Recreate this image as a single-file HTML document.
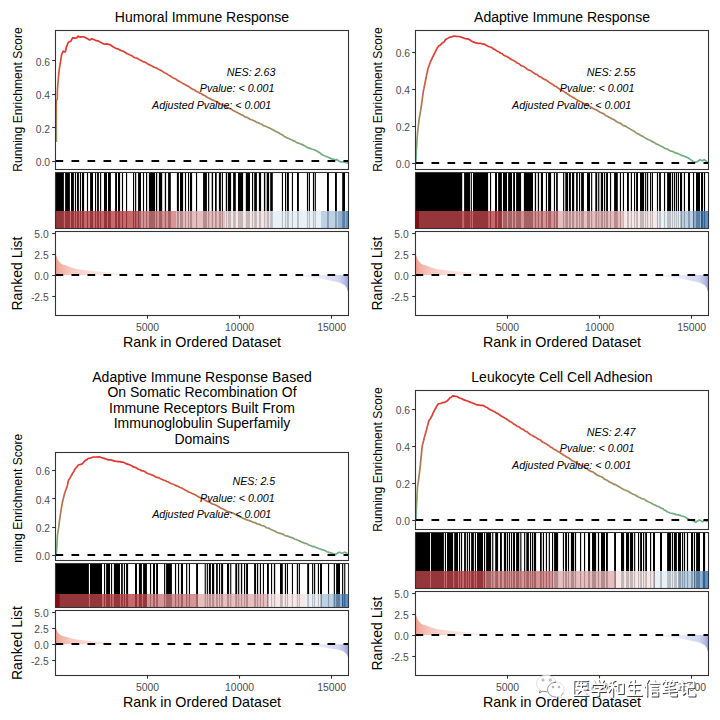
<!DOCTYPE html>
<html><head><meta charset="utf-8"><title>GSEA plots</title>
<style>
html,body{margin:0;padding:0;background:#fff;}
body{width:720px;height:720px;overflow:hidden;font-family:"Liberation Sans", sans-serif;}
svg{display:block;font-family:"Liberation Sans", sans-serif;}
</style></head><body>
<svg width="720" height="720" viewBox="0 0 720 720">
<rect width="720" height="720" fill="#fff"/>
<defs>
<linearGradient id="cg0" gradientUnits="userSpaceOnUse" x1="0" y1="36.1" x2="0" y2="163.3"><stop offset="0" stop-color="rgb(228,48,44)"/><stop offset="0.1" stop-color="rgb(226,56,48)"/><stop offset="0.2" stop-color="rgb(219,70,56)"/><stop offset="0.385" stop-color="rgb(202,96,70)"/><stop offset="0.5" stop-color="rgb(186,110,78)"/><stop offset="0.6" stop-color="rgb(170,125,85)"/><stop offset="0.75" stop-color="rgb(150,150,100)"/><stop offset="0.85" stop-color="rgb(130,163,115)"/><stop offset="0.93" stop-color="rgb(112,174,130)"/><stop offset="1" stop-color="rgb(104,180,140)"/></linearGradient>
<clipPath id="cp0"><rect x="55.5" y="30.5" width="293" height="139"/></clipPath>
<linearGradient id="rp0" gradientUnits="userSpaceOnUse" x1="55" y1="0" x2="175" y2="0"><stop offset="0" stop-color="rgb(240,156,141)"/><stop offset="0.04" stop-color="rgb(243,174,162)"/><stop offset="0.12" stop-color="rgb(247,198,190)"/><stop offset="0.3" stop-color="rgb(250,222,216)"/><stop offset="0.55" stop-color="rgb(253,240,238)"/><stop offset="1" stop-color="rgb(255,252,252)"/></linearGradient>
<linearGradient id="rn0" gradientUnits="userSpaceOnUse" x1="260" y1="0" x2="348" y2="0"><stop offset="0" stop-color="rgb(252,252,255)"/><stop offset="0.45" stop-color="rgb(242,243,251)"/><stop offset="0.72" stop-color="rgb(230,232,246)"/><stop offset="0.9" stop-color="rgb(208,212,238)"/><stop offset="0.97" stop-color="rgb(178,185,226)"/><stop offset="1" stop-color="rgb(156,165,217)"/></linearGradient>
<linearGradient id="cg1" gradientUnits="userSpaceOnUse" x1="0" y1="36" x2="0" y2="163"><stop offset="0" stop-color="rgb(228,48,44)"/><stop offset="0.1" stop-color="rgb(226,56,48)"/><stop offset="0.2" stop-color="rgb(219,70,56)"/><stop offset="0.385" stop-color="rgb(202,96,70)"/><stop offset="0.5" stop-color="rgb(186,110,78)"/><stop offset="0.6" stop-color="rgb(170,125,85)"/><stop offset="0.75" stop-color="rgb(150,150,100)"/><stop offset="0.85" stop-color="rgb(130,163,115)"/><stop offset="0.93" stop-color="rgb(112,174,130)"/><stop offset="1" stop-color="rgb(104,180,140)"/></linearGradient>
<clipPath id="cp1"><rect x="415.5" y="30.5" width="293" height="139"/></clipPath>
<linearGradient id="rp1" gradientUnits="userSpaceOnUse" x1="415" y1="0" x2="535" y2="0"><stop offset="0" stop-color="rgb(240,156,141)"/><stop offset="0.04" stop-color="rgb(243,174,162)"/><stop offset="0.12" stop-color="rgb(247,198,190)"/><stop offset="0.3" stop-color="rgb(250,222,216)"/><stop offset="0.55" stop-color="rgb(253,240,238)"/><stop offset="1" stop-color="rgb(255,252,252)"/></linearGradient>
<linearGradient id="rn1" gradientUnits="userSpaceOnUse" x1="620" y1="0" x2="708" y2="0"><stop offset="0" stop-color="rgb(252,252,255)"/><stop offset="0.45" stop-color="rgb(242,243,251)"/><stop offset="0.72" stop-color="rgb(230,232,246)"/><stop offset="0.9" stop-color="rgb(208,212,238)"/><stop offset="0.97" stop-color="rgb(178,185,226)"/><stop offset="1" stop-color="rgb(156,165,217)"/></linearGradient>
<linearGradient id="cg2" gradientUnits="userSpaceOnUse" x1="0" y1="456.7" x2="0" y2="555.4"><stop offset="0" stop-color="rgb(228,48,44)"/><stop offset="0.1" stop-color="rgb(226,56,48)"/><stop offset="0.2" stop-color="rgb(219,70,56)"/><stop offset="0.385" stop-color="rgb(202,96,70)"/><stop offset="0.5" stop-color="rgb(186,110,78)"/><stop offset="0.6" stop-color="rgb(170,125,85)"/><stop offset="0.75" stop-color="rgb(150,150,100)"/><stop offset="0.85" stop-color="rgb(130,163,115)"/><stop offset="0.93" stop-color="rgb(112,174,130)"/><stop offset="1" stop-color="rgb(104,180,140)"/></linearGradient>
<clipPath id="cp2"><rect x="55.5" y="452.5" width="293" height="108"/></clipPath>
<clipPath id="yc2"><rect x="0" y="0" width="55" height="563"/></clipPath>
<linearGradient id="rp2" gradientUnits="userSpaceOnUse" x1="55" y1="0" x2="175" y2="0"><stop offset="0" stop-color="rgb(240,156,141)"/><stop offset="0.04" stop-color="rgb(243,174,162)"/><stop offset="0.12" stop-color="rgb(247,198,190)"/><stop offset="0.3" stop-color="rgb(250,222,216)"/><stop offset="0.55" stop-color="rgb(253,240,238)"/><stop offset="1" stop-color="rgb(255,252,252)"/></linearGradient>
<linearGradient id="rn2" gradientUnits="userSpaceOnUse" x1="260" y1="0" x2="348" y2="0"><stop offset="0" stop-color="rgb(252,252,255)"/><stop offset="0.45" stop-color="rgb(242,243,251)"/><stop offset="0.72" stop-color="rgb(230,232,246)"/><stop offset="0.9" stop-color="rgb(208,212,238)"/><stop offset="0.97" stop-color="rgb(178,185,226)"/><stop offset="1" stop-color="rgb(156,165,217)"/></linearGradient>
<linearGradient id="cg3" gradientUnits="userSpaceOnUse" x1="0" y1="395.8" x2="0" y2="522.2"><stop offset="0" stop-color="rgb(228,48,44)"/><stop offset="0.1" stop-color="rgb(226,56,48)"/><stop offset="0.2" stop-color="rgb(219,70,56)"/><stop offset="0.385" stop-color="rgb(202,96,70)"/><stop offset="0.5" stop-color="rgb(186,110,78)"/><stop offset="0.6" stop-color="rgb(170,125,85)"/><stop offset="0.75" stop-color="rgb(150,150,100)"/><stop offset="0.85" stop-color="rgb(130,163,115)"/><stop offset="0.93" stop-color="rgb(112,174,130)"/><stop offset="1" stop-color="rgb(104,180,140)"/></linearGradient>
<clipPath id="cp3"><rect x="415.5" y="390.5" width="293" height="139"/></clipPath>
<linearGradient id="rp3" gradientUnits="userSpaceOnUse" x1="415" y1="0" x2="535" y2="0"><stop offset="0" stop-color="rgb(240,156,141)"/><stop offset="0.04" stop-color="rgb(243,174,162)"/><stop offset="0.12" stop-color="rgb(247,198,190)"/><stop offset="0.3" stop-color="rgb(250,222,216)"/><stop offset="0.55" stop-color="rgb(253,240,238)"/><stop offset="1" stop-color="rgb(255,252,252)"/></linearGradient>
<linearGradient id="rn3" gradientUnits="userSpaceOnUse" x1="620" y1="0" x2="708" y2="0"><stop offset="0" stop-color="rgb(252,252,255)"/><stop offset="0.45" stop-color="rgb(242,243,251)"/><stop offset="0.72" stop-color="rgb(230,232,246)"/><stop offset="0.9" stop-color="rgb(208,212,238)"/><stop offset="0.97" stop-color="rgb(178,185,226)"/><stop offset="1" stop-color="rgb(156,165,217)"/></linearGradient>
</defs>
<g id="panel1"><text x="202.0" y="21.7" font-size="14" text-anchor="middle" fill="#000">Humoral Immune Response</text>
<polyline points="56.35,142 56.35,140.34 56.35,138.68 56.35,137.02 56.35,135.36 56.35,133.7 56.35,132.04 56.35,130.38 56.35,128.72 56.35,127.06 56.35,125.4 56.35,123.74 56.35,122.08 56.35,120.42 56.35,118.76 56.35,117.1 56.35,115.44 56.35,113.78 56.35,112.12 56.35,110.46 56.35,108.8 56.35,107.14 56.35,105.48 56.35,103.82 56.35,102.16 56.35,100.5 57.3,99.5 57.32,97.8 57.34,96.1 57.36,94.4 57.38,92.7 57.4,91 57.52,88.81 57.65,87.12 57.77,85.43 57.9,83.3 58.07,81.61 58.23,79.78 58.4,77.7 58.57,76.13 58.73,74.08 58.9,72.2 59.16,70.1 59.42,68.61 59.68,66.52 59.94,65.41 60.2,63.3 60.5,61.86 60.8,59.61 61.1,57.82 61.4,56.38 61.7,54.4 62.5,52.52 63.3,51.1 65,52 65.6,51.2 66,48.71 66.4,46.7 67.2,45.5 67.75,43.61 68.3,42.2 69.5,41.8 71.1,40.9 72,39 72.8,37.8 74.5,38.1 76.7,38 77.4,36.9 78.3,36.1 79,36.9 80,36.9 82.2,36.83 84.4,37 87,38.5 88.5,39.35 90,40 91.7,38.7 94.5,39.8 96.15,40.65 97.8,40.8 100.5,42.3 101.9,42.88 103.3,43.9 105,44.25 106.7,43.9 108.65,44.39 110.6,44.8 112.5,46.5 114.4,47.6 116.27,48.61 118.13,48.88 120,49.9 121.43,50.74 122.86,51.07 124.29,51.71 125.71,52.73 127.14,53.75 128.57,54.32 130,55 131.67,55.58 133.33,56.89 135,57.76 136.67,58.07 138.33,59.04 140,59.9 141.67,60.84 143.33,61.87 145,62.12 146.67,63.27 148.33,64.42 150,64.9 151.43,65.71 152.86,66.52 154.29,67.29 155.71,67.82 157.14,68.38 158.57,69.34 160,70 161.43,70.85 162.86,71.54 164.29,72.75 165.71,73.21 167.14,74.13 168.57,75.17 170,75.8 171.43,76.87 172.86,77.75 174.29,78.4 175.71,78.93 177.14,80.21 178.57,81.08 180,81.6 181.43,82.61 182.86,83.49 184.29,84.14 185.71,84.97 187.14,85.88 188.57,86.39 190,87.5 191.43,88.46 192.86,89.43 194.29,89.73 195.71,91.01 197.14,91.8 198.57,92.18 200,93.3 201.43,93.72 202.86,94.89 204.29,95.36 205.71,96.18 207.14,97.18 208.57,97.96 210,98.6 211.43,99.53 212.86,100.14 214.29,100.7 215.71,101.2 217.14,102.02 218.57,102.82 220,103.8 221.67,104.62 223.33,105.57 225,105.98 226.67,106.92 228.33,108.13 230,108.6 231.43,109.3 232.86,110.3 234.29,111 235.71,111.81 237.14,112.44 238.57,113.26 240,114 241.43,114.9 242.86,115.23 244.29,116.46 245.71,117.25 247.14,117.37 248.57,118.23 250,119.2 251.67,119.78 253.33,120.43 255,121.23 256.67,122.37 258.33,122.75 260,123.8 261.67,124.22 263.33,125.64 265,125.98 266.67,126.83 268.33,127.53 270,128.3 271.43,128.97 272.86,129.84 274.29,130.42 275.71,131.5 277.14,132.04 278.57,132.74 280,133.8 281.43,134.35 282.86,135.28 284.29,136.44 285.71,136.96 287.14,138.02 288.57,138.35 290,139.2 291.67,139.78 293.33,140.89 295,141.26 296.67,142.65 298.33,142.95 300,143.8 301.67,144.38 303.33,145.13 305,145.9 306.67,147.13 308.33,147.92 310,148.3 311.6,149.04 313.2,149.5 314.8,150.03 316.4,150.78 318,151.8 319.77,152.81 321.53,154.24 323.3,155.3 325.55,156.2 327.8,156.9 329.43,157.9 331.07,158.61 332.7,159.1 335.3,159.8 336.7,159.6 338.9,160.9 341.1,162 342.4,161.9 345,162.2 346.9,162.7 348,163.3" fill="none" stroke="url(#cg0)" stroke-width="1.7" stroke-linejoin="round" clip-path="url(#cp0)"/>
<line x1="55.5" y1="161" x2="348.5" y2="161" stroke="#000" stroke-width="2" stroke-dasharray="7.7 8.3"/>
<text x="275.4" y="75.6" font-size="10.7" font-style="italic" text-anchor="end" fill="#000">NES: 2.63</text>
<text x="274.4" y="91.7" font-size="10.7" font-style="italic" text-anchor="end" fill="#000">Pvalue: &lt; 0.001</text>
<text x="271.25" y="108.5" font-size="10.7" font-style="italic" text-anchor="end" fill="#000">Adjusted Pvalue: &lt; 0.001</text>
<rect x="55.5" y="30.5" width="293" height="139" fill="none" stroke="#333333" stroke-width="1.1"/>
<line x1="52.2" y1="161.5" x2="55.5" y2="161.5" stroke="#333333" stroke-width="1.1"/>
<text x="50.0" y="166.1" font-size="10.3" text-anchor="end" fill="#4D4D4D">0.0</text>
<line x1="52.2" y1="127.5" x2="55.5" y2="127.5" stroke="#333333" stroke-width="1.1"/>
<text x="50.0" y="132.62" font-size="10.3" text-anchor="end" fill="#4D4D4D">0.2</text>
<line x1="52.2" y1="94.5" x2="55.5" y2="94.5" stroke="#333333" stroke-width="1.1"/>
<text x="50.0" y="99.14" font-size="10.3" text-anchor="end" fill="#4D4D4D">0.4</text>
<line x1="52.2" y1="60.5" x2="55.5" y2="60.5" stroke="#333333" stroke-width="1.1"/>
<text x="50.0" y="65.66" font-size="10.3" text-anchor="end" fill="#4D4D4D">0.6</text>
<g><text transform="translate(22.200000000000003,99.5) rotate(-90)" font-size="12.1" text-anchor="middle" fill="#000">Running Enrichment Score</text></g>
<path d="M55 172.5H63.9V228.5H55ZM65.1 172.5H69.9V228.5H65.1ZM71 172.5H73.9V228.5H71ZM74.92 172.5H76.08V228.5H74.92ZM77 172.5H78.9V228.5H77ZM79.92 172.5H81.08V228.5H79.92ZM82 172.5H84.1V228.5H82ZM86.92 172.5H88.08V228.5H86.92ZM90.1 172.5H93V228.5H90.1ZM94.97 172.5H96.12V228.5H94.97ZM97.1 172.5H98.9V228.5H97.1ZM100.02 172.5H101.17V228.5H100.02ZM104 172.5H107V228.5H104ZM108 172.5H110.9V228.5H108ZM115.1 172.5H117V228.5H115.1ZM118 172.5H120.1V228.5H118ZM121.92 172.5H123.08V228.5H121.92ZM125.97 172.5H127.12V228.5H125.97ZM132.98 172.5H134.12V228.5H132.98ZM135.07 172.5H136.22V228.5H135.07ZM138.1 172.5H141V228.5H138.1ZM142.93 172.5H144.07V228.5H142.93ZM146.03 172.5H147.17V228.5H146.03ZM148.9 172.5H155V228.5H148.9ZM155.9 172.5H157.2V228.5H155.9ZM158.9 172.5H162.2V228.5H158.9ZM164.8 172.5H166.1V228.5H164.8ZM168.1 172.5H170.8V228.5H168.1ZM176.9 172.5H178.9V228.5H176.9ZM180 172.5H183.1V228.5H180ZM184.93 172.5H186.07V228.5H184.93ZM187.98 172.5H189.12V228.5H187.98ZM190 172.5H192.1V228.5H190ZM195.98 172.5H197.12V228.5H195.98ZM203.1 172.5H206.9V228.5H203.1ZM208.07 172.5H209.22V228.5H208.07ZM211.7 172.5H213.1V228.5H211.7ZM215 172.5H216.7V228.5H215ZM218.9 172.5H220.9V228.5H218.9ZM221.83 172.5H222.97V228.5H221.83ZM225.8 172.5H227.2V228.5H225.8ZM228 172.5H231.1V228.5H228ZM233.1 172.5H235.8V228.5H233.1ZM238 172.5H243.1V228.5H238ZM245.8 172.5H250V228.5H245.8ZM251.98 172.5H253.12V228.5H251.98ZM254.2 172.5H256.9V228.5H254.2ZM258.9 172.5H261.1V228.5H258.9ZM263.9 172.5H265.3V228.5H263.9ZM266.7 172.5H269.1V228.5H266.7ZM270.2 172.5H272.8V228.5H270.2ZM281.88 172.5H283.02V228.5H281.88ZM284.98 172.5H286.12V228.5H284.98ZM286.9 172.5H288.9V228.5H286.9ZM291.88 172.5H293.02V228.5H291.88ZM297 172.5H298.9V228.5H297ZM306.93 172.5H308.07V228.5H306.93ZM308.82 172.5H309.97V228.5H308.82ZM312.93 172.5H314.07V228.5H312.93ZM314.73 172.5H315.88V228.5H314.73ZM327 172.5H328.9V228.5H327ZM335 172.5H336.9V228.5H335ZM342.2 172.5H345V228.5H342.2Z" fill="#000"/>
<rect x="55" y="211" width="83.75" height="17.5" fill="rgb(185,68,73)" fill-opacity="0.8"/>
<rect x="138.75" y="211" width="37.5" height="17.5" fill="rgb(205,122,125)" fill-opacity="0.8"/>
<rect x="176.25" y="211" width="48.75" height="17.5" fill="rgb(225,175,177)" fill-opacity="0.8"/>
<rect x="225" y="211" width="44.6" height="17.5" fill="rgb(245,228,229)" fill-opacity="0.8"/>
<rect x="269.6" y="211" width="51.4" height="17.5" fill="rgb(228,236,244)" fill-opacity="0.8"/>
<rect x="321" y="211" width="16.9" height="17.5" fill="rgb(173,197,222)" fill-opacity="0.8"/>
<rect x="337.9" y="211" width="7.5" height="17.5" fill="rgb(118,158,200)" fill-opacity="0.8"/>
<rect x="345.4" y="211" width="3.1" height="17.5" fill="rgb(63,120,178)" fill-opacity="0.8"/>
<rect x="55.5" y="172.5" width="293" height="56" fill="none" stroke="#333333" stroke-width="1.1"/>
<path d="M55.5 275.1L56 255.4 56.5 255.8 57.5 258.9 58.5 260.8 60 262.5 61.5 263.9 64.5 265 67.5 266.1 71.5 267.5 76.5 268.9 83.5 270 92.5 271.1 100.5 271.8 110.5 272.8 130.5 273.8 150.5 274.6 175.5 275.1Z" fill="url(#rp0)"/>
<path d="M260.5 275.1L260.5 275.1 285.5 275.8 300.5 276.7 310.5 277.2 316.5 278 325.5 279.5 332.5 280.9 338.5 282.2 342.5 283.9 345 285.6 346.5 287.8 347.7 291 348.7 293.8L348.5 275.1Z" fill="url(#rn0)"/>
<line x1="55.5" y1="275" x2="348.5" y2="275" stroke="#000" stroke-width="2" stroke-dasharray="7.7 8.3"/>
<rect x="55.5" y="231.5" width="293" height="84" fill="none" stroke="#333333" stroke-width="1.1"/>
<line x1="52.2" y1="233.5" x2="55.5" y2="233.5" stroke="#333333" stroke-width="1.1"/>
<text x="48.7" y="238" font-size="10.3" text-anchor="end" fill="#4D4D4D">5.0</text>
<line x1="52.2" y1="254.5" x2="55.5" y2="254.5" stroke="#333333" stroke-width="1.1"/>
<text x="48.7" y="258.9" font-size="10.3" text-anchor="end" fill="#4D4D4D">2.5</text>
<line x1="52.2" y1="275.5" x2="55.5" y2="275.5" stroke="#333333" stroke-width="1.1"/>
<text x="48.7" y="279.8" font-size="10.3" text-anchor="end" fill="#4D4D4D">0.0</text>
<line x1="52.2" y1="296.5" x2="55.5" y2="296.5" stroke="#333333" stroke-width="1.1"/>
<text x="48.7" y="300.7" font-size="10.3" text-anchor="end" fill="#4D4D4D">-2.5</text>
<text transform="translate(22.299999999999997,273.55) rotate(-90)" font-size="14" text-anchor="middle" fill="#000">Ranked List</text>
<line x1="147.5" y1="315.5" x2="147.5" y2="318.6" stroke="#333333" stroke-width="1.1"/>
<text x="147.53" y="330.8" font-size="10.4" text-anchor="middle" fill="#4D4D4D">5000</text>
<line x1="239.5" y1="315.5" x2="239.5" y2="318.6" stroke="#333333" stroke-width="1.1"/>
<text x="239.55" y="330.8" font-size="10.4" text-anchor="middle" fill="#4D4D4D">10000</text>
<line x1="331.5" y1="315.5" x2="331.5" y2="318.6" stroke="#333333" stroke-width="1.1"/>
<text x="331.58" y="330.8" font-size="10.4" text-anchor="middle" fill="#4D4D4D">15000</text>
<text x="202.0" y="347.3" font-size="14.3" text-anchor="middle" fill="#000">Rank in Ordered Dataset</text></g>
<g id="panel2"><text x="562.0" y="21.7" font-size="14" text-anchor="middle" fill="#000">Adaptive Immune Response</text>
<polyline points="415.6,163 415.8,162.5 415.88,160.95 415.96,159.05 416.03,158.02 416.11,156.38 416.19,154.42 416.27,152.96 416.34,151.01 416.42,149.4 416.5,148 416.61,146.21 416.72,144.88 416.83,142.88 416.94,141.82 417.06,139.51 417.17,137.97 417.28,136.25 417.39,135.14 417.5,133.3 417.69,131.59 417.88,130.06 418.07,128.33 418.26,126.96 418.44,125.17 418.63,123.41 418.82,121.97 419.01,120.26 419.2,118.8 419.5,116.72 419.8,115.47 420.1,113.58 420.4,111.78 420.7,110.16 421,108.01 421.3,106.3 421.52,104.59 421.74,103 421.97,101.36 422.19,99.94 422.41,97.81 422.63,96.54 422.86,94.97 423.08,93.2 423.3,91.7 423.65,89.6 424,88.39 424.35,86.13 424.7,84.82 425.05,82.77 425.4,81.3 425.76,79.15 426.11,77.47 426.47,75.59 426.83,73.86 427.19,72.48 427.54,70.72 427.9,68.75 428.52,66.98 429.14,65.53 429.76,63.72 430.38,62.07 431,60.4 431.72,59.23 432.44,57.34 433.16,56.3 433.88,54.71 434.6,53.1 435.43,51.78 436.26,49.8 437.09,48.4 437.92,46.9 438.75,45.8 440.5,44.9 442.5,42.7 444,41.9 445.6,39.6 447.5,38.6 449.8,37.1 452,36.8 454,36 456.5,36.4 459.2,36.5 462,37.4 463.7,37.96 465.4,38.75 467.5,38.9 469.6,39.6 470.98,40.77 472.37,41.55 473.75,42.1 476.02,42.96 478.3,43.3 480.4,43.31 482.5,44.06 484.6,44.2 486.09,45.18 487.57,45.98 489.06,46.74 490.54,47.01 492.03,47.81 493.51,49.05 495,49.6 496.39,50.61 497.78,51.56 499.17,52.06 500.56,53.23 501.94,53.49 503.33,54.95 504.72,55.73 506.11,56.14 507.5,57.1 508.89,57.6 510.28,58.8 511.67,59.74 513.06,60.32 514.44,60.93 515.83,61.93 517.22,63.18 518.61,63.46 520,64.6 521.39,65.77 522.78,66.08 524.17,66.88 525.56,67.64 526.94,69.13 528.33,69.9 529.72,70.3 531.11,70.96 532.5,72.1 533.89,73.05 535.28,74.06 536.67,74.23 538.06,75.53 539.44,76.54 540.83,77.07 542.22,77.99 543.61,79 545,79.6 546.39,80.29 547.78,81.21 549.17,82.39 550.56,83.2 551.94,84.07 553.33,84.81 554.72,86.15 556.11,86.55 557.5,87.6 558.89,88.65 560.28,89.72 561.67,90.26 563.06,90.91 564.44,91.94 565.83,92.74 567.22,93.71 568.61,94.6 570,95.8 571.56,96.54 573.12,97.43 574.69,98.35 576.25,99.38 577.81,100.25 579.38,101.12 580.94,101.73 582.5,102.7 584.06,103.66 585.62,104.41 587.19,104.93 588.75,106.08 590.31,106.75 591.88,107.86 593.44,108.74 595,109.4 596.56,110.07 598.12,111.08 599.69,111.95 601.25,112.7 602.81,113.36 604.38,114.23 605.94,115.81 607.5,116.3 609.06,117.33 610.62,117.95 612.19,118.98 613.75,119.52 615.31,120.71 616.88,121.74 618.44,122.46 620,123.1 621.43,123.92 622.86,125.15 624.29,125.95 625.71,126.14 627.14,127.25 628.57,128.12 630,129 631.43,129.69 632.86,130.8 634.29,131.3 635.71,132.62 637.14,133.56 638.57,133.81 640,135 641.43,135.9 642.86,136.34 644.29,137.38 645.71,138.17 647.14,139.15 648.57,139.77 650,140.3 651.43,140.96 652.86,142.05 654.29,142.39 655.71,143.61 657.14,144.17 658.57,144.84 660,145.8 661.67,146.43 663.33,147.25 665,148.53 666.67,148.83 668.33,149.76 670,150.8 671.62,151.14 673.25,151.69 674.88,152.7 676.5,153.1 678.2,153.84 679.9,154.58 681.6,155.43 683.3,155.8 684.97,156.61 686.65,157.15 688.33,158.11 690,159.2 691.4,160.15 692.8,161.23 694.2,162 695.85,162.17 697.5,161.7 698.75,160.71 700,159.7 702.5,160.8 704.2,159.7 706,161 707.5,161.7" fill="none" stroke="url(#cg1)" stroke-width="1.7" stroke-linejoin="round" clip-path="url(#cp1)"/>
<line x1="415.5" y1="163" x2="708.5" y2="163" stroke="#000" stroke-width="2" stroke-dasharray="7.7 8.3"/>
<text x="635.4" y="75.6" font-size="10.7" font-style="italic" text-anchor="end" fill="#000">NES: 2.55</text>
<text x="634.4" y="91.7" font-size="10.7" font-style="italic" text-anchor="end" fill="#000">Pvalue: &lt; 0.001</text>
<text x="631.25" y="108.5" font-size="10.7" font-style="italic" text-anchor="end" fill="#000">Adjusted Pvalue: &lt; 0.001</text>
<rect x="415.5" y="30.5" width="293" height="139" fill="none" stroke="#333333" stroke-width="1.1"/>
<line x1="412.2" y1="163.5" x2="415.5" y2="163.5" stroke="#333333" stroke-width="1.1"/>
<text x="410.0" y="168.3" font-size="10.3" text-anchor="end" fill="#4D4D4D">0.0</text>
<line x1="412.2" y1="126.5" x2="415.5" y2="126.5" stroke="#333333" stroke-width="1.1"/>
<text x="410.0" y="131.18" font-size="10.3" text-anchor="end" fill="#4D4D4D">0.2</text>
<line x1="412.2" y1="89.5" x2="415.5" y2="89.5" stroke="#333333" stroke-width="1.1"/>
<text x="410.0" y="94.06" font-size="10.3" text-anchor="end" fill="#4D4D4D">0.4</text>
<line x1="412.2" y1="52.5" x2="415.5" y2="52.5" stroke="#333333" stroke-width="1.1"/>
<text x="410.0" y="56.94" font-size="10.3" text-anchor="end" fill="#4D4D4D">0.6</text>
<g><text transform="translate(382.2,99.5) rotate(-90)" font-size="12.1" text-anchor="middle" fill="#000">Running Enrichment Score</text></g>
<path d="M415 172.5H462.2V228.5H415ZM464.1 172.5H470V228.5H464.1ZM470.72 172.5H471.87V228.5H470.72ZM473 172.5H488.1V228.5H473ZM489.98 172.5H491.12V228.5H489.98ZM495 172.5H497V228.5H495ZM498.1 172.5H501.9V228.5H498.1ZM503 172.5H507V228.5H503ZM508.1 172.5H512V228.5H508.1ZM513.1 172.5H515V228.5H513.1ZM516.1 172.5H521.1V228.5H516.1ZM523.9 172.5H533V228.5H523.9ZM534.8 172.5H536.1V228.5H534.8ZM537.8 172.5H539.1V228.5H537.8ZM540.9 172.5H543V228.5H540.9ZM545.88 172.5H547.03V228.5H545.88ZM548.1 172.5H551.1V228.5H548.1ZM553.88 172.5H555.03V228.5H553.88ZM556.1 172.5H557.8V228.5H556.1ZM563.08 172.5H564.23V228.5H563.08ZM565.3 172.5H568V228.5H565.3ZM568.9 172.5H570.9V228.5H568.9ZM572 172.5H574.2V228.5H572ZM576.1 172.5H577.8V228.5H576.1ZM578.97 172.5H580.12V228.5H578.97ZM581.1 172.5H583.9V228.5H581.1ZM587 172.5H590V228.5H587ZM591.08 172.5H592.23V228.5H591.08ZM595.3 172.5H597.2V228.5H595.3ZM598.17 172.5H599.33V228.5H598.17ZM600.8 172.5H603.1V228.5H600.8ZM604.02 172.5H605.18V228.5H604.02ZM606.1 172.5H608V228.5H606.1ZM609.97 172.5H611.12V228.5H609.97ZM614.1 172.5H617.8V228.5H614.1ZM619.88 172.5H621.03V228.5H619.88ZM622.88 172.5H624.03V228.5H622.88ZM627 172.5H628.9V228.5H627ZM630.82 172.5H631.98V228.5H630.82ZM633.97 172.5H635.12V228.5H633.97ZM636.1 172.5H638V228.5H636.1ZM640 172.5H644.1V228.5H640ZM645.08 172.5H646.23V228.5H645.08ZM647.02 172.5H648.18V228.5H647.02ZM649.97 172.5H651.12V228.5H649.97ZM651.88 172.5H653.03V228.5H651.88ZM656.92 172.5H658.08V228.5H656.92ZM659.1 172.5H660.9V228.5H659.1ZM663.97 172.5H665.12V228.5H663.97ZM667.1 172.5H671V228.5H667.1ZM671.88 172.5H673.03V228.5H671.88ZM673.88 172.5H675.03V228.5H673.88ZM675.82 172.5H676.98V228.5H675.82ZM677.82 172.5H678.98V228.5H677.82ZM680 172.5H682.1V228.5H680ZM683.88 172.5H685.03V228.5H683.88ZM688 172.5H690V228.5H688ZM692.97 172.5H694.12V228.5H692.97ZM696 172.5H700V228.5H696ZM701 172.5H703V228.5H701ZM703.9 172.5H705.1V228.5H703.9Z" fill="#000"/>
<rect x="415" y="211" width="3.75" height="17.5" fill="rgb(165,15,21)" fill-opacity="0.8"/>
<rect x="418.75" y="211" width="83.55" height="17.5" fill="rgb(185,68,73)" fill-opacity="0.8"/>
<rect x="502.3" y="211" width="55.5" height="17.5" fill="rgb(205,122,125)" fill-opacity="0.8"/>
<rect x="557.8" y="211" width="65.1" height="17.5" fill="rgb(225,175,177)" fill-opacity="0.8"/>
<rect x="622.9" y="211" width="34.2" height="17.5" fill="rgb(245,228,229)" fill-opacity="0.8"/>
<rect x="657.1" y="211" width="24" height="17.5" fill="rgb(228,236,244)" fill-opacity="0.8"/>
<rect x="681.1" y="211" width="12.2" height="17.5" fill="rgb(173,197,222)" fill-opacity="0.8"/>
<rect x="693.3" y="211" width="7.8" height="17.5" fill="rgb(118,158,200)" fill-opacity="0.8"/>
<rect x="701.1" y="211" width="7.4" height="17.5" fill="rgb(63,120,178)" fill-opacity="0.8"/>
<rect x="415.5" y="172.5" width="293" height="56" fill="none" stroke="#333333" stroke-width="1.1"/>
<path d="M415.5 275.1L416 255.4 416.5 255.8 417.5 258.9 418.5 260.8 420 262.5 421.5 263.9 424.5 265 427.5 266.1 431.5 267.5 436.5 268.9 443.5 270 452.5 271.1 460.5 271.8 470.5 272.8 490.5 273.8 510.5 274.6 535.5 275.1Z" fill="url(#rp1)"/>
<path d="M620.5 275.1L620.5 275.1 645.5 275.8 660.5 276.7 670.5 277.2 676.5 278 685.5 279.5 692.5 280.9 698.5 282.2 702.5 283.9 705 285.6 706.5 287.8 707.7 291 708.7 293.8L708.5 275.1Z" fill="url(#rn1)"/>
<line x1="415.5" y1="275" x2="708.5" y2="275" stroke="#000" stroke-width="2" stroke-dasharray="7.7 8.3"/>
<rect x="415.5" y="231.5" width="293" height="84" fill="none" stroke="#333333" stroke-width="1.1"/>
<line x1="412.2" y1="233.5" x2="415.5" y2="233.5" stroke="#333333" stroke-width="1.1"/>
<text x="408.7" y="238" font-size="10.3" text-anchor="end" fill="#4D4D4D">5.0</text>
<line x1="412.2" y1="254.5" x2="415.5" y2="254.5" stroke="#333333" stroke-width="1.1"/>
<text x="408.7" y="258.9" font-size="10.3" text-anchor="end" fill="#4D4D4D">2.5</text>
<line x1="412.2" y1="275.5" x2="415.5" y2="275.5" stroke="#333333" stroke-width="1.1"/>
<text x="408.7" y="279.8" font-size="10.3" text-anchor="end" fill="#4D4D4D">0.0</text>
<line x1="412.2" y1="296.5" x2="415.5" y2="296.5" stroke="#333333" stroke-width="1.1"/>
<text x="408.7" y="300.7" font-size="10.3" text-anchor="end" fill="#4D4D4D">-2.5</text>
<text transform="translate(382.3,273.55) rotate(-90)" font-size="14" text-anchor="middle" fill="#000">Ranked List</text>
<line x1="507.5" y1="315.5" x2="507.5" y2="318.6" stroke="#333333" stroke-width="1.1"/>
<text x="507.52" y="330.8" font-size="10.4" text-anchor="middle" fill="#4D4D4D">5000</text>
<line x1="599.5" y1="315.5" x2="599.5" y2="318.6" stroke="#333333" stroke-width="1.1"/>
<text x="599.55" y="330.8" font-size="10.4" text-anchor="middle" fill="#4D4D4D">10000</text>
<line x1="691.5" y1="315.5" x2="691.5" y2="318.6" stroke="#333333" stroke-width="1.1"/>
<text x="691.58" y="330.8" font-size="10.4" text-anchor="middle" fill="#4D4D4D">15000</text>
<text x="562.0" y="347.3" font-size="14.3" text-anchor="middle" fill="#000">Rank in Ordered Dataset</text></g>
<g id="panel3"><text x="202.0" y="381.7" font-size="14" text-anchor="middle" fill="#000">Adaptive Immune Response Based</text>
<text x="202.0" y="397.25" font-size="14" text-anchor="middle" fill="#000">On Somatic Recombination Of</text>
<text x="202.0" y="412.8" font-size="14" text-anchor="middle" fill="#000">Immune Receptors Built From</text>
<text x="202.0" y="428.35" font-size="14" text-anchor="middle" fill="#000">Immunoglobulin Superfamily</text>
<text x="202.0" y="443.9" font-size="14" text-anchor="middle" fill="#000">Domains</text>
<polyline points="55.7,555.4 56.3,554.2 56.42,552.12 56.53,550.65 56.65,548.5 56.77,547.09 56.88,545.2 57,543.3 57.1,541.55 57.2,540.07 57.3,538.37 57.4,536.31 57.5,535 57.74,533.35 57.99,531.75 58.23,530 58.47,528.6 58.71,526.82 58.96,524.88 59.2,523.3 59.43,521.44 59.66,519.7 59.89,518.56 60.11,516.82 60.34,515.1 60.57,513.31 60.8,511.7 61.08,510.03 61.37,508.16 61.65,506.72 61.93,504.76 62.22,503.46 62.5,501.7 62.94,500.12 63.38,498.47 63.82,496.47 64.26,494.67 64.7,493.3 65.26,491.51 65.82,490.12 66.38,488.33 66.94,486.85 67.5,485 67.9,482.85 68.3,480.8 69.15,479.27 70,478.21 70.85,476.2 71.7,475 72.53,473.33 73.35,472.17 74.17,470.75 75,469.2 76.1,467.75 77.2,466.44 78.3,465 80,464.55 81.7,464.2 83.35,462.63 85,460.8 86.65,459.85 88.3,458.3 90.5,458 93.3,457 96,457 97.6,457.1 99.2,456.7 101.1,457.46 103,458 104.85,458.58 106.7,459.2 108.3,459.84 109.9,459.76 111.5,460.1 113.23,460.6 114.97,461.18 116.7,461.3 118.35,461.66 120,461.67 121.65,462.16 123.3,462.2 124.97,462.98 126.65,463.92 128.32,464.39 130,465 131.67,465.81 133.33,466.93 135,467.37 136.67,468.06 138.33,469.25 140,469.7 141.67,470.79 143.33,470.95 145,471.63 146.67,472.97 148.33,473.74 150,474.2 151.67,474.83 153.33,475.45 155,476.49 156.67,477.4 158.33,477.57 160,478.5 161.67,479.21 163.33,480.12 165,480.54 166.67,481.44 168.33,481.98 170,483 171.67,483.73 173.33,484.29 175,484.93 176.67,485.92 178.33,486.48 180,487.5 181.67,488.04 183.33,488.9 185,489.94 186.67,490.69 188.33,491.84 190,492.5 191.67,493.27 193.33,493.97 195,494.76 196.67,495.68 198.33,496.85 200,497.5 201.67,498.11 203.33,499.14 205,500.23 206.67,501.08 208.33,501.64 210,502.5 211.67,503.59 213.33,504.27 215,504.79 216.67,505.52 218.33,506.42 220,507.5 221.67,508.49 223.33,508.95 225,510.06 226.67,510.92 228.33,511.65 230,512.1 231.67,512.84 233.33,513.26 235,514.23 236.67,514.95 238.33,516.05 240,516.7 241.67,517.55 243.33,518.42 245,518.96 246.67,519.85 248.33,520.3 250,520.9 251.67,521.5 253.33,522.39 255,522.58 256.67,523.58 258.33,524.16 260,524.6 261.67,525.61 263.33,525.73 265,526.56 266.67,527.88 268.33,527.99 270,529 271.67,529.68 273.33,530.51 275,531.14 276.67,532.15 278.33,532.93 280,533.3 281.67,533.83 283.33,534.32 285,535.57 286.67,535.86 288.33,536.36 290,537.2 291.67,537.58 293.33,538.13 295,539.21 296.67,539.63 298.33,540.49 300,541.1 301.6,542.08 303.2,542.41 304.8,543.42 306.4,543.41 308,544.4 309.52,545.2 311.04,545.79 312.56,546.55 314.08,546.44 315.6,547.4 317.22,547.97 318.83,548.58 320.45,549.17 322.07,549.64 323.68,550.06 325.3,550.8 327.02,551.73 328.75,552.34 330.48,552.83 332.2,553.3 333.95,554.15 335.7,554.3 337.45,553.29 339.2,552.2 342,553.2 344.7,552.2 347.5,553.6" fill="none" stroke="url(#cg2)" stroke-width="1.7" stroke-linejoin="round" clip-path="url(#cp2)"/>
<line x1="55.5" y1="555" x2="348.5" y2="555" stroke="#000" stroke-width="2" stroke-dasharray="7.7 8.3"/>
<text x="275.3" y="484.7" font-size="10.7" font-style="italic" text-anchor="end" fill="#000">NES: 2.5</text>
<text x="274.7" y="501.7" font-size="10.7" font-style="italic" text-anchor="end" fill="#000">Pvalue: &lt; 0.001</text>
<text x="271.3" y="517.7" font-size="10.7" font-style="italic" text-anchor="end" fill="#000">Adjusted Pvalue: &lt; 0.001</text>
<rect x="55.5" y="452.5" width="293" height="108" fill="none" stroke="#333333" stroke-width="1.1"/>
<line x1="52.2" y1="555.5" x2="55.5" y2="555.5" stroke="#333333" stroke-width="1.1"/>
<text x="50.0" y="560.4" font-size="10.3" text-anchor="end" fill="#4D4D4D">0.0</text>
<line x1="52.2" y1="527.5" x2="55.5" y2="527.5" stroke="#333333" stroke-width="1.1"/>
<text x="50.0" y="532.04" font-size="10.3" text-anchor="end" fill="#4D4D4D">0.2</text>
<line x1="52.2" y1="498.5" x2="55.5" y2="498.5" stroke="#333333" stroke-width="1.1"/>
<text x="50.0" y="503.68" font-size="10.3" text-anchor="end" fill="#4D4D4D">0.4</text>
<line x1="52.2" y1="470.5" x2="55.5" y2="470.5" stroke="#333333" stroke-width="1.1"/>
<text x="50.0" y="475.32" font-size="10.3" text-anchor="end" fill="#4D4D4D">0.6</text>
<g clip-path="url(#yc2)"><text transform="translate(22.200000000000003,506) rotate(-90)" font-size="12.1" text-anchor="middle" fill="#000">Running Enrichment Score</text></g>
<path d="M55 563.5H88.9V607.5H55ZM90 563.5H102V607.5H90ZM103.97 563.5H105.12V607.5H103.97ZM106.1 563.5H110V607.5H106.1ZM110.97 563.5H112.12V607.5H110.97ZM113.9 563.5H120V607.5H113.9ZM121.1 563.5H122.8V607.5H121.1ZM123.88 563.5H125.03V607.5H123.88ZM126.1 563.5H128.1V607.5H126.1ZM135 563.5H137V607.5H135ZM138.9 563.5H141.9V607.5H138.9ZM143.1 563.5H146.9V607.5H143.1ZM149.98 563.5H151.12V607.5H149.98ZM153 563.5H155V607.5H153ZM156.1 563.5H158V607.5H156.1ZM164.07 563.5H165.22V607.5H164.07ZM166.1 563.5H171.9V607.5H166.1ZM174.98 563.5H176.12V607.5H174.98ZM177.98 563.5H179.12V607.5H177.98ZM180.9 563.5H183V607.5H180.9ZM186.07 563.5H187.22V607.5H186.07ZM188.88 563.5H190.02V607.5H188.88ZM196.1 563.5H198V607.5H196.1ZM204.68 563.5H205.82V607.5H204.68ZM206.78 563.5H207.93V607.5H206.78ZM208.9 563.5H210.9V607.5H208.9ZM212 563.5H214.2V607.5H212ZM216.1 563.5H217.8V607.5H216.1ZM218.98 563.5H220.12V607.5H218.98ZM221.1 563.5H223.1V607.5H221.1ZM227 563.5H229.1V607.5H227ZM230.18 563.5H231.32V607.5H230.18ZM235.3 563.5H237.2V607.5H235.3ZM238.12 563.5H239.27V607.5H238.12ZM240.9 563.5H242.2V607.5H240.9ZM244.03 563.5H245.17V607.5H244.03ZM246.1 563.5H248V607.5H246.1ZM254.1 563.5H256.1V607.5H254.1ZM257.03 563.5H258.18V607.5H257.03ZM259.88 563.5H261.02V607.5H259.88ZM262.88 563.5H264.02V607.5H262.88ZM267 563.5H268.9V607.5H267ZM270.98 563.5H272.12V607.5H270.98ZM273.9 563.5H275.2V607.5H273.9ZM280 563.5H282.8V607.5H280ZM284.88 563.5H286.02V607.5H284.88ZM286.88 563.5H288.02V607.5H286.88ZM291.88 563.5H293.02V607.5H291.88ZM296.82 563.5H297.97V607.5H296.82ZM298.78 563.5H299.93V607.5H298.78ZM307.2 563.5H309.1V607.5H307.2ZM312.07 563.5H313.22V607.5H312.07ZM314.03 563.5H315.18V607.5H314.03ZM317.88 563.5H319.02V607.5H317.88ZM320 563.5H322V607.5H320ZM327.98 563.5H329.12V607.5H327.98ZM333.78 563.5H334.93V607.5H333.78ZM336.1 563.5H340V607.5H336.1ZM342.07 563.5H343.22V607.5H342.07ZM344.18 563.5H345.32V607.5H344.18Z" fill="#000"/>
<rect x="55" y="594" width="4.4" height="13.5" fill="rgb(165,15,21)" fill-opacity="0.8"/>
<rect x="59.4" y="594" width="87.5" height="13.5" fill="rgb(185,68,73)" fill-opacity="0.8"/>
<rect x="146.9" y="594" width="51.5" height="13.5" fill="rgb(205,122,125)" fill-opacity="0.8"/>
<rect x="198.4" y="594" width="69.4" height="13.5" fill="rgb(225,175,177)" fill-opacity="0.8"/>
<rect x="267.8" y="594" width="37.8" height="13.5" fill="rgb(245,228,229)" fill-opacity="0.8"/>
<rect x="305.6" y="594" width="15.5" height="13.5" fill="rgb(228,236,244)" fill-opacity="0.8"/>
<rect x="321.1" y="594" width="12.2" height="13.5" fill="rgb(173,197,222)" fill-opacity="0.8"/>
<rect x="333.3" y="594" width="8.9" height="13.5" fill="rgb(118,158,200)" fill-opacity="0.8"/>
<rect x="342.2" y="594" width="6.3" height="13.5" fill="rgb(63,120,178)" fill-opacity="0.8"/>
<rect x="55.5" y="563.5" width="293" height="44" fill="none" stroke="#333333" stroke-width="1.1"/>
<path d="M55.5 644.3L56 629.12 56.5 629.43 57.5 631.82 58.5 633.28 60 634.59 61.5 635.67 64.5 636.52 67.5 637.37 71.5 638.45 76.5 639.52 83.5 640.37 92.5 641.22 100.5 641.76 110.5 642.53 130.5 643.3 150.5 643.91 175.5 644.3Z" fill="url(#rp2)"/>
<path d="M260.5 644.3L260.5 644.3 285.5 644.84 300.5 645.53 310.5 645.92 316.5 646.53 325.5 647.69 332.5 648.77 338.5 649.77 342.5 651.08 345 652.39 346.5 654.08 347.7 656.55 348.7 658.71L348.5 644.3Z" fill="url(#rn2)"/>
<line x1="55.5" y1="644" x2="348.5" y2="644" stroke="#000" stroke-width="2" stroke-dasharray="7.7 8.3"/>
<rect x="55.5" y="610.5" width="293" height="65" fill="none" stroke="#333333" stroke-width="1.1"/>
<line x1="52.2" y1="612.5" x2="55.5" y2="612.5" stroke="#333333" stroke-width="1.1"/>
<text x="48.7" y="616.8" font-size="10.3" text-anchor="end" fill="#4D4D4D">5.0</text>
<line x1="52.2" y1="628.5" x2="55.5" y2="628.5" stroke="#333333" stroke-width="1.1"/>
<text x="48.7" y="632.9" font-size="10.3" text-anchor="end" fill="#4D4D4D">2.5</text>
<line x1="52.2" y1="644.5" x2="55.5" y2="644.5" stroke="#333333" stroke-width="1.1"/>
<text x="48.7" y="649" font-size="10.3" text-anchor="end" fill="#4D4D4D">0.0</text>
<line x1="52.2" y1="660.5" x2="55.5" y2="660.5" stroke="#333333" stroke-width="1.1"/>
<text x="48.7" y="665.1" font-size="10.3" text-anchor="end" fill="#4D4D4D">-2.5</text>
<text transform="translate(22.299999999999997,643.05) rotate(-90)" font-size="14" text-anchor="middle" fill="#000">Ranked List</text>
<line x1="147.5" y1="675.5" x2="147.5" y2="678.6" stroke="#333333" stroke-width="1.1"/>
<text x="147.53" y="690.8" font-size="10.4" text-anchor="middle" fill="#4D4D4D">5000</text>
<line x1="239.5" y1="675.5" x2="239.5" y2="678.6" stroke="#333333" stroke-width="1.1"/>
<text x="239.55" y="690.8" font-size="10.4" text-anchor="middle" fill="#4D4D4D">10000</text>
<line x1="331.5" y1="675.5" x2="331.5" y2="678.6" stroke="#333333" stroke-width="1.1"/>
<text x="331.58" y="690.8" font-size="10.4" text-anchor="middle" fill="#4D4D4D">15000</text>
<text x="202.0" y="707.3" font-size="14.3" text-anchor="middle" fill="#000">Rank in Ordered Dataset</text></g>
<g id="panel4"><text x="562.0" y="381.7" font-size="14" text-anchor="middle" fill="#000">Leukocyte Cell Cell Adhesion</text>
<polyline points="415.7,520.2 416,518.3 416.07,517 416.14,514.95 416.21,513.49 416.28,511.84 416.35,509.78 416.42,508.02 416.49,506.76 416.56,504.73 416.63,503.27 416.7,501.7 416.79,500.36 416.88,498.72 416.97,496.51 417.06,494.85 417.14,493.32 417.23,492.15 417.32,489.91 417.41,488.42 417.5,487 417.75,485.05 418,483.42 418.25,482.07 418.5,480.16 418.75,478.75 418.96,476.94 419.17,475.44 419.38,473.69 419.58,471.72 419.79,470.26 420,468.3 420.18,466.57 420.36,464.98 420.54,462.75 420.71,461.06 420.89,459.43 421.07,457.92 421.25,455.8 421.43,454.16 421.6,452.31 421.77,450.41 421.95,448.7 422.12,446.92 422.3,445.4 422.77,443.94 423.25,442.04 423.73,440.22 424.2,438.1 424.71,436.3 425.23,434.61 425.74,432.47 426.25,430.8 426.71,429.05 427.17,427.06 427.62,425.54 428.08,423.68 428.54,421.83 429,420.4 430.2,419 431.7,416.25 432.43,415.01 433.15,412.82 433.88,411.8 434.6,410 435.53,408.59 436.45,406.56 437.38,405.3 438.3,403.75 440.5,403.5 442.5,402.7 444.5,402.4 446.7,401.25 448.25,399.95 449.8,397.9 451.35,397.22 452.9,395.8 454.95,396.2 457,396.5 458.57,397.48 460.15,398.21 461.73,398.67 463.3,399.6 465.4,400.34 467.5,401 469.6,401.92 471.7,402.7 473.57,403.32 475.43,404.34 477.3,404.8 479.03,404.96 480.77,405.39 482.5,405.4 484.06,405.89 485.62,407.01 487.19,407.53 488.75,408.81 490.31,409.81 491.88,410.38 493.44,411.22 495,412 496.39,412.96 497.78,413.53 499.17,414.51 500.56,415.53 501.94,416.44 503.33,417.11 504.72,418.05 506.11,418.8 507.5,419.8 508.89,420.72 510.28,421.69 511.67,422.3 513.06,423.45 514.44,424.45 515.83,425.09 517.22,426.31 518.61,426.68 520,427.7 521.39,428.89 522.78,429.19 524.17,430.2 525.56,431.41 526.94,431.68 528.33,432.99 529.72,434.05 531.11,434.97 532.5,435.5 533.89,436.51 535.28,437.12 536.67,437.97 538.06,439.07 539.44,439.5 540.83,440.34 542.22,441.86 543.61,442.53 545,443.3 546.39,443.92 547.78,445 549.17,445.77 550.56,447.09 551.94,447.53 553.33,448.74 554.72,449.63 556.11,450.18 557.5,451.2 558.89,451.88 560.28,452.95 561.67,453.72 563.06,454.74 564.44,455.4 565.83,456.62 567.22,457.21 568.61,457.86 570,459 571.39,460.02 572.78,460.92 574.17,461.57 575.56,462.28 576.94,463.34 578.33,464.2 579.72,464.3 581.11,465.48 582.5,466.3 583.89,466.73 585.28,467.77 586.67,468.5 588.06,469.47 589.44,470.43 590.83,471.37 592.22,471.72 593.61,472.33 595,473.5 596.56,474.77 598.12,475.49 599.69,476.2 601.25,476.76 602.81,477.6 604.38,479.15 605.94,479.73 607.5,480.6 609.06,481.71 610.62,482.49 612.19,483.3 613.75,484.18 615.31,484.6 616.88,485.43 618.44,486.41 620,487.3 621.43,488.25 622.86,489.01 624.29,489.72 625.71,490.33 627.14,491 628.57,491.52 630,492.5 631.67,493.46 633.33,494.28 635,495.01 636.67,496.01 638.33,497.03 640,497.5 641.67,498.67 643.33,498.87 645,499.84 646.67,500.92 648.33,501.81 650,502.5 651.67,503.17 653.33,504.49 655,504.97 656.67,506.03 658.33,506.33 660,507.5 661.43,508.12 662.86,508.71 664.29,510.08 665.71,510.66 667.14,511.77 668.57,512.3 670,513 671.62,513.27 673.25,513.69 674.88,514.11 676.5,514.6 678.2,514.8 679.9,515.15 681.6,515.99 683.3,516.3 684.97,517.01 686.65,517.96 688.33,519.01 690,519.7 691.93,520.36 693.87,521.32 695.8,522.2 697.5,520.97 699.2,520 700.85,520.72 702.5,521.7 705,520.3 707.5,522" fill="none" stroke="url(#cg3)" stroke-width="1.7" stroke-linejoin="round" clip-path="url(#cp3)"/>
<line x1="415.5" y1="520" x2="708.5" y2="520" stroke="#000" stroke-width="2" stroke-dasharray="7.7 8.3"/>
<text x="635.4" y="435.6" font-size="10.7" font-style="italic" text-anchor="end" fill="#000">NES: 2.47</text>
<text x="634.4" y="451.7" font-size="10.7" font-style="italic" text-anchor="end" fill="#000">Pvalue: &lt; 0.001</text>
<text x="631.25" y="468.5" font-size="10.7" font-style="italic" text-anchor="end" fill="#000">Adjusted Pvalue: &lt; 0.001</text>
<rect x="415.5" y="390.5" width="293" height="139" fill="none" stroke="#333333" stroke-width="1.1"/>
<line x1="412.2" y1="520.5" x2="415.5" y2="520.5" stroke="#333333" stroke-width="1.1"/>
<text x="410.0" y="525.3" font-size="10.3" text-anchor="end" fill="#4D4D4D">0.0</text>
<line x1="412.2" y1="483.5" x2="415.5" y2="483.5" stroke="#333333" stroke-width="1.1"/>
<text x="410.0" y="488.36" font-size="10.3" text-anchor="end" fill="#4D4D4D">0.2</text>
<line x1="412.2" y1="446.5" x2="415.5" y2="446.5" stroke="#333333" stroke-width="1.1"/>
<text x="410.0" y="451.42" font-size="10.3" text-anchor="end" fill="#4D4D4D">0.4</text>
<line x1="412.2" y1="409.5" x2="415.5" y2="409.5" stroke="#333333" stroke-width="1.1"/>
<text x="410.0" y="414.48" font-size="10.3" text-anchor="end" fill="#4D4D4D">0.6</text>
<g><text transform="translate(382.2,459.5) rotate(-90)" font-size="12.1" text-anchor="middle" fill="#000">Running Enrichment Score</text></g>
<path d="M415 532.5H430V588.5H415ZM430.9 532.5H443.9V588.5H430.9ZM444.88 532.5H446.02V588.5H444.88ZM447 532.5H453.1V588.5H447ZM454.2 532.5H458V588.5H454.2ZM458.98 532.5H460.12V588.5H458.98ZM460.98 532.5H462.12V588.5H460.98ZM464.1 532.5H465.9V588.5H464.1ZM466.82 532.5H467.97V588.5H466.82ZM468.88 532.5H470.02V588.5H468.88ZM471.1 532.5H473.9V588.5H471.1ZM474.88 532.5H476.02V588.5H474.88ZM477 532.5H483V588.5H477ZM483.98 532.5H485.12V588.5H483.98ZM486.1 532.5H491.1V588.5H486.1ZM492.18 532.5H493.32V588.5H492.18ZM495.2 532.5H498.1V588.5H495.2ZM500 532.5H501.9V588.5H500ZM503.9 532.5H506.1V588.5H503.9ZM506.88 532.5H508.02V588.5H506.88ZM508.88 532.5H510.02V588.5H508.88ZM510.98 532.5H512.12V588.5H510.98ZM513 532.5H515V588.5H513ZM516.1 532.5H519.2V588.5H516.1ZM520.27 532.5H521.42V588.5H520.27ZM524.08 532.5H525.23V588.5H524.08ZM526.3 532.5H528.9V588.5H526.3ZM529.97 532.5H531.12V588.5H529.97ZM532.02 532.5H533.18V588.5H532.02ZM533.9 532.5H536.1V588.5H533.9ZM540 532.5H541.7V588.5H540ZM542.88 532.5H544.03V588.5H542.88ZM545.88 532.5H547.03V588.5H545.88ZM548.77 532.5H549.92V588.5H548.77ZM551.97 532.5H553.12V588.5H551.97ZM554.1 532.5H558.1V588.5H554.1ZM562.88 532.5H564.03V588.5H562.88ZM565.1 532.5H567V588.5H565.1ZM567.92 532.5H569.08V588.5H567.92ZM570.9 532.5H574.1V588.5H570.9ZM574.9 532.5H576.1V588.5H574.9ZM580.02 532.5H581.18V588.5H580.02ZM583.97 532.5H585.12V588.5H583.97ZM588 532.5H590.1V588.5H588ZM592 532.5H596.1V588.5H592ZM597.9 532.5H599.1V588.5H597.9ZM601 532.5H605V588.5H601ZM606 532.5H607.9V588.5H606ZM614.1 532.5H616V588.5H614.1ZM621 532.5H624.1V588.5H621ZM626 532.5H629.1V588.5H626ZM630 532.5H633.1V588.5H630ZM634.08 532.5H635.23V588.5H634.08ZM637.97 532.5H639.12V588.5H637.97ZM640.1 532.5H642V588.5H640.1ZM643.02 532.5H644.18V588.5H643.02ZM645.2 532.5H647V588.5H645.2ZM650.02 532.5H651.18V588.5H650.02ZM653 532.5H655V588.5H653ZM660 532.5H662V588.5H660ZM667.1 532.5H671V588.5H667.1ZM671.88 532.5H673.03V588.5H671.88ZM673.9 532.5H676.9V588.5H673.9ZM678 532.5H681V588.5H678ZM681.97 532.5H683.12V588.5H681.97ZM683.9 532.5H685.1V588.5H683.9ZM686.9 532.5H688.1V588.5H686.9ZM691 532.5H693V588.5H691ZM693.88 532.5H695.03V588.5H693.88ZM696.1 532.5H700V588.5H696.1ZM703 532.5H705.1V588.5H703Z" fill="#000"/>
<rect x="415" y="571" width="70" height="17.5" fill="rgb(185,68,73)" fill-opacity="0.8"/>
<rect x="485" y="571" width="68.5" height="17.5" fill="rgb(205,122,125)" fill-opacity="0.8"/>
<rect x="553.5" y="571" width="62.1" height="17.5" fill="rgb(225,175,177)" fill-opacity="0.8"/>
<rect x="615.6" y="571" width="38.8" height="17.5" fill="rgb(245,228,229)" fill-opacity="0.8"/>
<rect x="654.4" y="571" width="24.5" height="17.5" fill="rgb(228,236,244)" fill-opacity="0.8"/>
<rect x="678.9" y="571" width="15.5" height="17.5" fill="rgb(173,197,222)" fill-opacity="0.8"/>
<rect x="694.4" y="571" width="7.8" height="17.5" fill="rgb(118,158,200)" fill-opacity="0.8"/>
<rect x="702.2" y="571" width="6.3" height="17.5" fill="rgb(63,120,178)" fill-opacity="0.8"/>
<rect x="415.5" y="532.5" width="293" height="56" fill="none" stroke="#333333" stroke-width="1.1"/>
<path d="M415.5 635.1L416 615.4 416.5 615.8 417.5 618.9 418.5 620.8 420 622.5 421.5 623.9 424.5 625 427.5 626.1 431.5 627.5 436.5 628.9 443.5 630 452.5 631.1 460.5 631.8 470.5 632.8 490.5 633.8 510.5 634.6 535.5 635.1Z" fill="url(#rp3)"/>
<path d="M620.5 635.1L620.5 635.1 645.5 635.8 660.5 636.7 670.5 637.2 676.5 638 685.5 639.5 692.5 640.9 698.5 642.2 702.5 643.9 705 645.6 706.5 647.8 707.7 651 708.7 653.8L708.5 635.1Z" fill="url(#rn3)"/>
<line x1="415.5" y1="635" x2="708.5" y2="635" stroke="#000" stroke-width="2" stroke-dasharray="7.7 8.3"/>
<rect x="415.5" y="591.5" width="293" height="84" fill="none" stroke="#333333" stroke-width="1.1"/>
<line x1="412.2" y1="593.5" x2="415.5" y2="593.5" stroke="#333333" stroke-width="1.1"/>
<text x="408.7" y="598" font-size="10.3" text-anchor="end" fill="#4D4D4D">5.0</text>
<line x1="412.2" y1="614.5" x2="415.5" y2="614.5" stroke="#333333" stroke-width="1.1"/>
<text x="408.7" y="618.9" font-size="10.3" text-anchor="end" fill="#4D4D4D">2.5</text>
<line x1="412.2" y1="635.5" x2="415.5" y2="635.5" stroke="#333333" stroke-width="1.1"/>
<text x="408.7" y="639.8" font-size="10.3" text-anchor="end" fill="#4D4D4D">0.0</text>
<line x1="412.2" y1="656.5" x2="415.5" y2="656.5" stroke="#333333" stroke-width="1.1"/>
<text x="408.7" y="660.7" font-size="10.3" text-anchor="end" fill="#4D4D4D">-2.5</text>
<text transform="translate(382.3,633.55) rotate(-90)" font-size="14" text-anchor="middle" fill="#000">Ranked List</text>
<line x1="507.5" y1="675.5" x2="507.5" y2="678.6" stroke="#333333" stroke-width="1.1"/>
<text x="507.52" y="690.8" font-size="10.4" text-anchor="middle" fill="#4D4D4D">5000</text>
<line x1="599.5" y1="675.5" x2="599.5" y2="678.6" stroke="#333333" stroke-width="1.1"/>
<text x="599.55" y="690.8" font-size="10.4" text-anchor="middle" fill="#4D4D4D">10000</text>
<line x1="691.5" y1="675.5" x2="691.5" y2="678.6" stroke="#333333" stroke-width="1.1"/>
<text x="691.58" y="690.8" font-size="10.4" text-anchor="middle" fill="#4D4D4D">15000</text>
<text x="562.0" y="707.3" font-size="14.3" text-anchor="middle" fill="#000">Rank in Ordered Dataset</text></g>
<g id="watermark">
<g><path d="M546.3,675.3 C540.8,675.3 536.6,678.8 536.6,683.6 C536.6,686.3 538,688.6 540.3,690.2 L539.4,692.9 L542.6,691.3 C543.8,691.7 545,691.9 546.3,691.9 C551.7,691.9 556,688.2 556,683.5 C556,678.8 551.7,675.3 546.3,675.3 Z" fill="#fff" stroke="#d9d9d9" stroke-width="0.8"/><path d="M540.3,690.2 L539.4,692.9 L542.6,691.3 L546.8,691.6" fill="none" stroke="#555" stroke-opacity="0.8" stroke-width="0.8"/><path d="M556,682.2 C551.3,682.2 547.6,685.5 547.6,689.6 C547.6,693.7 551.3,697 556,697 C557,697 558,696.9 558.9,696.6 L561.6,698 L560.9,695.7 C562.9,694.3 564.2,692.1 564.2,689.6 C564.2,685.5 560.6,682.2 556,682.2 Z" fill="#fff" stroke="#d9d9d9" stroke-width="0.8"/><path d="M553.6,682.5 C550.2,683.4 547.6,686.2 547.6,689.6 C547.6,691.4 548.3,693 549.4,694.3 C551,696 553.3,697 556,697" fill="none" stroke="#666" stroke-opacity="0.7" stroke-width="0.8"/><path d="M553.6,682.5 L556,682.2" fill="none" stroke="#555" stroke-width="0.9"/><path d="M560.9,695.7 C561.9,694.9 562.7,694 563.3,693" fill="none" stroke="#666" stroke-opacity="0.7" stroke-width="0.8"/><circle cx="543" cy="680" r="1.1" fill="#fff" stroke="#777" stroke-width="0.6"/><circle cx="550.3" cy="680" r="1.1" fill="#fff" stroke="#777" stroke-width="0.6"/><circle cx="553" cy="687" r="0.9" fill="#fff" stroke="#777" stroke-width="0.6"/><circle cx="559" cy="687" r="0.9" fill="#fff" stroke="#777" stroke-width="0.6"/></g>
<g transform="translate(572.6,679.2) scale(1,1.07)"><path d="M1,1.2H15 M1,1.2V15 M1,15H15.3 M5.6,2.8L4.2,5.6 M4.4,5.4H13 M3.2,9H14 M8.6,3V9L4.2,13.4 M8.8,9.2L13.4,13.4" fill="none" stroke="#fff" stroke-opacity="0.55" stroke-width="4.2" stroke-linecap="round" stroke-linejoin="round"/><path d="M1,1.2H15 M1,1.2V15 M1,15H15.3 M5.6,2.8L4.2,5.6 M4.4,5.4H13 M3.2,9H14 M8.6,3V9L4.2,13.4 M8.8,9.2L13.4,13.4" transform="translate(1.1,1.0)" fill="none" stroke="#333" stroke-opacity="0.95" stroke-width="1.3" stroke-linecap="round" stroke-linejoin="round"/><path d="M1,1.2H15 M1,1.2V15 M1,15H15.3 M5.6,2.8L4.2,5.6 M4.4,5.4H13 M3.2,9H14 M8.6,3V9L4.2,13.4 M8.8,9.2L13.4,13.4" fill="none" stroke="#fff" stroke-width="1.6" stroke-linecap="round" stroke-linejoin="round"/></g>
<g transform="translate(590.35,679.2) scale(1,1.07)"><path d="M3,1L4.6,3.4 M7.8,0.4L8.6,3 M13,0.8L11.4,3.4 M1.6,7V4.6H14.6L13.6,7 M4.6,7.6H11.6L8.2,10 M0.8,11.2H15.2 M8.2,10V15.2L6,14.4" fill="none" stroke="#fff" stroke-opacity="0.55" stroke-width="4.2" stroke-linecap="round" stroke-linejoin="round"/><path d="M3,1L4.6,3.4 M7.8,0.4L8.6,3 M13,0.8L11.4,3.4 M1.6,7V4.6H14.6L13.6,7 M4.6,7.6H11.6L8.2,10 M0.8,11.2H15.2 M8.2,10V15.2L6,14.4" transform="translate(1.1,1.0)" fill="none" stroke="#333" stroke-opacity="0.95" stroke-width="1.3" stroke-linecap="round" stroke-linejoin="round"/><path d="M3,1L4.6,3.4 M7.8,0.4L8.6,3 M13,0.8L11.4,3.4 M1.6,7V4.6H14.6L13.6,7 M4.6,7.6H11.6L8.2,10 M0.8,11.2H15.2 M8.2,10V15.2L6,14.4" fill="none" stroke="#fff" stroke-width="1.6" stroke-linecap="round" stroke-linejoin="round"/></g>
<g transform="translate(608.1,679.2) scale(1,1.07)"><path d="M6.8,1L1.8,2.6 M0.4,5.6H8.2 M4.4,2.2V15.6 M4.2,6.2L0.4,11.6 M4.6,6.2L8,10 M9.6,4H15V13H9.6Z" fill="none" stroke="#fff" stroke-opacity="0.55" stroke-width="4.2" stroke-linecap="round" stroke-linejoin="round"/><path d="M6.8,1L1.8,2.6 M0.4,5.6H8.2 M4.4,2.2V15.6 M4.2,6.2L0.4,11.6 M4.6,6.2L8,10 M9.6,4H15V13H9.6Z" transform="translate(1.1,1.0)" fill="none" stroke="#333" stroke-opacity="0.95" stroke-width="1.3" stroke-linecap="round" stroke-linejoin="round"/><path d="M6.8,1L1.8,2.6 M0.4,5.6H8.2 M4.4,2.2V15.6 M4.2,6.2L0.4,11.6 M4.6,6.2L8,10 M9.6,4H15V13H9.6Z" fill="none" stroke="#fff" stroke-width="1.6" stroke-linecap="round" stroke-linejoin="round"/></g>
<g transform="translate(625.85,679.2) scale(1,1.07)"><path d="M4.2,1.4L2,6.2 M3.4,4.6H14 M8.2,0.4V15 M3.4,9.6H13 M0.8,15H15.6" fill="none" stroke="#fff" stroke-opacity="0.55" stroke-width="4.2" stroke-linecap="round" stroke-linejoin="round"/><path d="M4.2,1.4L2,6.2 M3.4,4.6H14 M8.2,0.4V15 M3.4,9.6H13 M0.8,15H15.6" transform="translate(1.1,1.0)" fill="none" stroke="#333" stroke-opacity="0.95" stroke-width="1.3" stroke-linecap="round" stroke-linejoin="round"/><path d="M4.2,1.4L2,6.2 M3.4,4.6H14 M8.2,0.4V15 M3.4,9.6H13 M0.8,15H15.6" fill="none" stroke="#fff" stroke-width="1.6" stroke-linecap="round" stroke-linejoin="round"/></g>
<g transform="translate(643.6,679.2) scale(1,1.07)"><path d="M4.6,0.4L0.8,7 M3,5V15.6 M10,0.4L11.2,2 M6,3.6H15.6 M7.6,6.4H14 M7.6,9H14 M7.6,11.6H14V15.4H7.6Z" fill="none" stroke="#fff" stroke-opacity="0.55" stroke-width="4.2" stroke-linecap="round" stroke-linejoin="round"/><path d="M4.6,0.4L0.8,7 M3,5V15.6 M10,0.4L11.2,2 M6,3.6H15.6 M7.6,6.4H14 M7.6,9H14 M7.6,11.6H14V15.4H7.6Z" transform="translate(1.1,1.0)" fill="none" stroke="#333" stroke-opacity="0.95" stroke-width="1.3" stroke-linecap="round" stroke-linejoin="round"/><path d="M4.6,0.4L0.8,7 M3,5V15.6 M10,0.4L11.2,2 M6,3.6H15.6 M7.6,6.4H14 M7.6,9H14 M7.6,11.6H14V15.4H7.6Z" fill="none" stroke="#fff" stroke-width="1.6" stroke-linecap="round" stroke-linejoin="round"/></g>
<g transform="translate(661.35,679.2) scale(1,1.07)"><path d="M3,0.4L0.8,4 M2.4,2H7 M4.6,2L5.2,4 M10,0.4L8.4,3.6 M9.6,2H15.2 M12,2L12.6,4 M12.4,5L3.4,6.6 M3,9.2L13,8.6 M0.8,12.2L15,11.2 M8,6V13.8Q8,15.4 9.6,15.4H15V13.4" fill="none" stroke="#fff" stroke-opacity="0.55" stroke-width="4.2" stroke-linecap="round" stroke-linejoin="round"/><path d="M3,0.4L0.8,4 M2.4,2H7 M4.6,2L5.2,4 M10,0.4L8.4,3.6 M9.6,2H15.2 M12,2L12.6,4 M12.4,5L3.4,6.6 M3,9.2L13,8.6 M0.8,12.2L15,11.2 M8,6V13.8Q8,15.4 9.6,15.4H15V13.4" transform="translate(1.1,1.0)" fill="none" stroke="#333" stroke-opacity="0.95" stroke-width="1.3" stroke-linecap="round" stroke-linejoin="round"/><path d="M3,0.4L0.8,4 M2.4,2H7 M4.6,2L5.2,4 M10,0.4L8.4,3.6 M9.6,2H15.2 M12,2L12.6,4 M12.4,5L3.4,6.6 M3,9.2L13,8.6 M0.8,12.2L15,11.2 M8,6V13.8Q8,15.4 9.6,15.4H15V13.4" fill="none" stroke="#fff" stroke-width="1.6" stroke-linecap="round" stroke-linejoin="round"/></g>
<g transform="translate(679.1,679.2) scale(1,1.07)"><path d="M2,1L4,3 M0.4,6H3.6V14L6,12 M7.6,2H14.6V7.6H8 M8,7.6V13.8Q8,15.4 9.6,15.4H15.6V13" fill="none" stroke="#fff" stroke-opacity="0.55" stroke-width="4.2" stroke-linecap="round" stroke-linejoin="round"/><path d="M2,1L4,3 M0.4,6H3.6V14L6,12 M7.6,2H14.6V7.6H8 M8,7.6V13.8Q8,15.4 9.6,15.4H15.6V13" transform="translate(1.1,1.0)" fill="none" stroke="#333" stroke-opacity="0.95" stroke-width="1.3" stroke-linecap="round" stroke-linejoin="round"/><path d="M2,1L4,3 M0.4,6H3.6V14L6,12 M7.6,2H14.6V7.6H8 M8,7.6V13.8Q8,15.4 9.6,15.4H15.6V13" fill="none" stroke="#fff" stroke-width="1.6" stroke-linecap="round" stroke-linejoin="round"/></g>
</g>
</svg>
</body></html>
